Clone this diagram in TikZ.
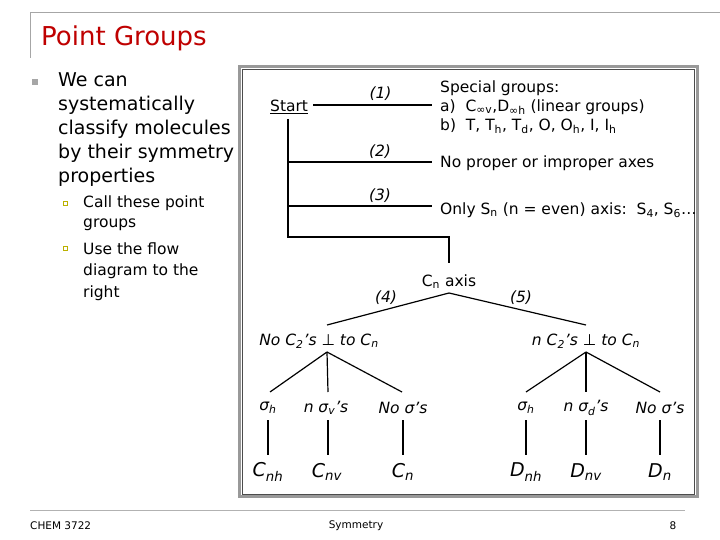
\documentclass[tikz,border=0pt]{standalone}
\usepackage{fontspec}
\setmainfont{DejaVu Sans}
\newcommand{\sbs}[1]{\textsubscript{#1}}
\begin{document}
\begin{tikzpicture}[x=1pt,y=-1pt,
  lbl/.style={inner sep=0pt,font=\fontsize{15.5}{17}\selectfont},
  ilbl/.style={inner sep=0pt,font=\fontsize{15.5}{17}\selectfont\itshape},
  big/.style={inner sep=0pt,font=\fontsize{19}{21}\selectfont\itshape},
  ln/.style={line width=1.2pt},
  bul/.style={anchor=west,inner sep=0pt,font=\fontsize{19}{21}\selectfont},
  sbul/.style={anchor=west,inner sep=0pt,font=\fontsize{15.5}{18}\selectfont},
  ft/.style={inner sep=0pt,font=\fontsize{10.5}{12}\selectfont}]
\useasboundingbox (0,0) rectangle (720,540);
\fill[white] (0,0) rectangle (720,540);
% title frame
\draw[gray!70,line width=0.8pt] (30,58) -- (30,12) -- (720,12);
\node[anchor=west,inner sep=0pt,text=red!75!black,font=\fontsize{26}{30}\selectfont] (title) at (41,38) {Point Groups};
% bullets
\fill[gray!70] (32,79) rectangle (38,85);
\node[bul] (b1) at (58,80) {We can};
\node[bul] (b2) at (58,105) {systematically};
\node[bul] (b3) at (58,129) {classify molecules};
\node[bul] (b4) at (58,153) {by their symmetry};
\node[bul] (b5) at (58,177) {properties};
\draw[olive!60!yellow,line width=0.6pt] (63,201) rectangle (67,205);
\draw[olive!60!yellow,line width=0.6pt] (63,246) rectangle (67,250);
\node[sbul] (s1) at (83,203) {Call these point};
\node[sbul] (s2) at (83,225) {groups};
\node[sbul] (s3) at (83,249) {Use the flow};
\node[sbul] (s4) at (83,271) {diagram to the};
\node[sbul] (s5) at (83,293) {right};
% box
\draw[gray!80,line width=3pt] (239.5,66.5) rectangle (697,496.5);
\draw[black!70,line width=0.5pt] (242,69) rectangle (694.5,494);
% flow
\node[lbl,anchor=west] (start) at (270,107) {\underline{Start}};
\coordinate (st) at (288,119);
\coordinate (l1a) at (313,105); \coordinate (l1b) at (432,105);
\coordinate (l2a) at (288,162); \coordinate (l2b) at (432,162);
\coordinate (l3a) at (288,206); \coordinate (l3b) at (432,206);
\draw[ln] (l1a) -- (l1b) node[ilbl,midway,above=4pt,xshift=8pt] {(1)};
\draw[ln] (l2a) -- (l2b) node[ilbl,midway,above=3pt,xshift=20pt] {(2)};
\draw[ln] (l3a) -- (l3b) node[ilbl,midway,above=3pt,xshift=20pt] {(3)};
\node[lbl,anchor=west] (sp1) at (440,88) {Special groups:};
\node[lbl,anchor=west] (sp2) at (440,107) {a)\ \ C\sbs{∞v},D\sbs{∞h} (linear groups)};
\node[lbl,anchor=west] (sp3) at (440,126) {b)\ \ T, T\sbs{h}, T\sbs{d}, O, O\sbs{h}, I, I\sbs{h}};
\node[lbl,anchor=west] (np) at (440,163) {No proper or improper axes};
\node[lbl,anchor=west] (sn) at (440,210) {Only S\sbs{n} (n = even) axis:\ \ S\sbs{4}, S\sbs{6}…};
\coordinate (corner) at (288,237); \coordinate (corner2) at (449,237);
\coordinate (cntop) at (449,263);
\node[lbl] (cn) at (449,282) {C\sbs{n} axis};
\draw[ln] (st) -- (corner) -- (corner2) -- (cntop);
\coordinate (cnb) at (449,293);
\node[ilbl] (lab4) at (386,298) {(4)};
\node[ilbl] (lab5) at (521,298) {(5)};
\node[ilbl] (no) at (319,341) {No C\sbs{2}’s ⊥ to C\sbs{n}};
\node[ilbl] (yes) at (586,341) {n C\sbs{2}’s ⊥ to C\sbs{n}};
\coordinate (nol) at (327,325); \coordinate (yesl) at (586,325);
\draw[ln] (cnb) -- (nol);
\draw[ln] (cnb) -- (yesl);
\foreach \n/\x/\t in {a/268/{σ\sbs{h}},b/326/{n σ\sbs{v}’s},c/403/{No σ’s},d/526/{σ\sbs{h}},e/586/{n σ\sbs{d}’s},f/660/{No σ’s}}
  \node[ilbl] (m\n) at (\x,408) {\t};
\foreach \n/\x/\t in {a/268/{C\sbs{nh}},b/327/{C\sbs{nv}},c/403/{C\sbs{n}},d/526/{D\sbs{nh}},e/586/{D\sbs{nv}},f/660/{D\sbs{n}}}
  \node[big] (r\n) at (\x,472) {\t};
\coordinate (nob) at (327,352); \coordinate (yesb) at (586,352);
\foreach \n/\x in {a/270,b/328,c/402} \draw[ln] (nob) -- (\x,392);
\foreach \n/\x in {d/526,e/586,f/660} \draw[ln] (yesb) -- (\x,392);
\foreach \n/\x in {a/268,b/328,c/403,d/526,e/586,f/660} \draw[ln] (\x,420) -- (\x,455);
% footer
\draw[gray!60,line width=0.6pt] (30,510) -- (685,510);
\node[ft,anchor=west] (f1) at (30,526) {CHEM 3722};
\node[ft] (f2) at (356,526) {Symmetry};
\node[ft] (f3) at (673,526) {8};
\end{tikzpicture}
\end{document}
